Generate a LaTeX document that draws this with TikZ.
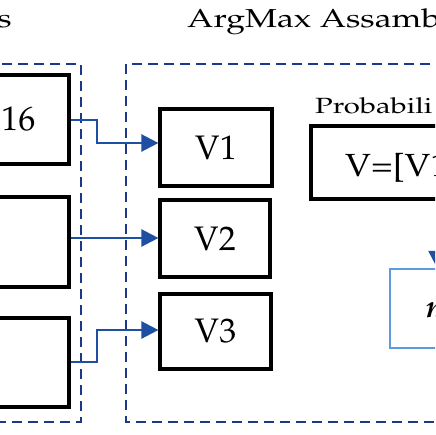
\documentclass[tikz,border=0pt]{standalone}
\usepackage[T1]{fontenc}
\usepackage{mathpazo}
\usetikzlibrary{arrows.meta}
\definecolor{navy}{HTML}{1A3A86}
\definecolor{arrblue}{HTML}{1D4FA3}
\definecolor{lightblue}{HTML}{5B9BE0}
\tikzset{
  blackbox/.style={draw=black, line width=3.2pt, fill=white, inner sep=0pt},
  groupbox/.style={draw=navy, line width=2.6pt, dash pattern=on 10pt off 6pt},
  flow/.style={draw=arrblue, line width=2.5pt, -{Triangle[length=17pt,width=17pt]}},
  big/.style={font=\fontsize{34}{40}\selectfont}
}
\begin{document}
\begin{tikzpicture}[x=1pt,y=-1pt]
\clip (0,0) rectangle (435,435);
\fill[white] (0,0) rectangle (435,435);
% titles
\node[anchor=base east, inner sep=0pt, font=\fontsize{26}{30}\selectfont] (tleft) at (12,28) {\scalebox{1.3}[1]{s}};
\node[anchor=base west, inner sep=0pt, font=\fontsize{26}{30}\selectfont] (tright) at (187,28) {\scalebox{1.3}[1]{ArgMax Assamb}};
% dashed group boxes
\draw[groupbox] (-30,64) rectangle (81,422);
\draw[groupbox] (126,64) rectangle (480,422);
% left boxes
\node[blackbox, big, minimum width=101pt, minimum height=89pt] (L1) at (18.5,119.5) {16};
\node[blackbox, minimum width=101pt, minimum height=90pt] (L2) at (18.5,242) {};
\node[blackbox, minimum width=101pt, minimum height=89pt] (L3) at (18.5,362.5) {};
% V boxes
\node[blackbox, big, minimum width=112pt, minimum height=77pt] (V1) at (216,147.5) {V1};
\node[blackbox, big, minimum width=110pt, minimum height=77pt] (V2) at (215,238.5) {V2};
\node[blackbox, big, minimum width=111pt, minimum height=75pt] (V3) at (215.5,331.5) {V3};
% probability box
\node[anchor=base west, inner sep=0pt, font=\fontsize{22}{26}\selectfont] (plabel) at (315,114) {\scalebox{1.33}[1]{Probabili}};
\node[blackbox, minimum width=170pt, minimum height=73pt] (P) at (396,162.5) {};
\node[anchor=base west, inner sep=0pt, font=\fontsize{32}{38}\selectfont] (ptext) at (345,177) {\scalebox{1.12}[1]{V=[V1}};
% light blue box
\node[draw=lightblue, line width=2.4pt, fill=white, minimum width=90pt, minimum height=79pt, inner sep=0pt] (M) at (435,308.5) {};
\node[anchor=base west, inner sep=0pt, font=\fontsize{32}{38}\selectfont] (mtext) at (426,317) {\textbf{\textit{n}}};
% connectors
\draw[flow] (L1.east |- 0,120) -- (97,120) -- (97,143) -- (V1.west |- 0,143);
\draw[flow] (L2.east |- 0,238) -- (V2.west |- 0,238);
\draw[flow] (L3.east |- 0,362) -- (97,362) -- (97,330) -- (V3.west |- 0,330);
\draw[flow] (P.south -| 437,0) -- (M.north -| 437,0);
\end{tikzpicture}
\end{document}
